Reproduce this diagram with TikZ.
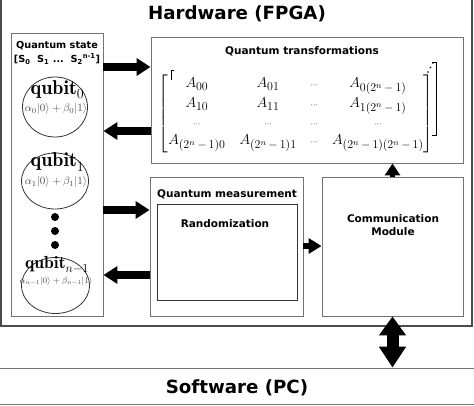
\RequirePackage{fix-cm}
\documentclass[tikz,border=0pt]{standalone}
\usepackage{amsmath,amssymb}
\usepackage{fontspec}
\usepackage{tikz}
\usetikzlibrary{arrows.meta,shapes.geometric}
\newfontfamily\labelfont{DejaVu Sans}
\DeclareMathSizes{14.4}{14.4}{12}{8.5}
\def\mdots{{\scriptscriptstyle\cdots}}
\def\tn{(2^n\mskip3mu-\mskip3mu1)}
\tikzset{
	box/.style={draw=black!55,line width=0.9pt,inner sep=0pt},
	lbl/.style={font=\labelfont\bfseries\fontsize{10.5}{13.3}\selectfont,anchor=base,inner sep=0pt},
	small lbl/.style={lbl,font=\labelfont\bfseries\fontsize{9.7}{12}\selectfont},
	big/.style={font=\labelfont\bfseries\fontsize{18.2}{20}\selectfont,anchor=base,inner sep=0pt},
	qubit/.style={draw=black!80,ellipse,line width=0.8pt,inner sep=0pt},
	qname/.style={anchor=base,inner sep=0pt,font=\fontsize{20}{20}\selectfont},
	qamp/.style={anchor=base,inner sep=0pt,text=black!70,font=\fontsize{11}{11}\selectfont},
	fat/.style={line width=8pt,-{Triangle[length=14pt,width=17pt]}},
	dot/.style={circle,fill=black,inner sep=0pt,minimum size=8pt},
}

\begin{document}
\begin{tikzpicture}[x=1pt,y=-1pt]
	\useasboundingbox (0,0) rectangle (474,406);
	
	%the two layers
	\node[box,draw=black!70,line width=1.5pt,minimum width=471pt,minimum height=340pt] (hw) at (236.5,156) {};
	\node[big] (hwtitle) at (237,20) {Hardware (FPGA)};
	\node[box,minimum width=480pt,minimum height=36pt] (sw) at (237,386) {};
	\node[big] (swtitle) at (237,393) {Software (PC)};
	
	%quantum state with its qubits
	\node[box,minimum width=92pt,minimum height=283pt] (state) at (57,174.5) {};
	\node[small lbl] (statetitle) at (57,49) {Quantum state};
	\node[small lbl] (statevec) at (57,63) {[S\textsubscript{0}\ \ S\textsubscript{1} ...\ \ S\textsubscript{2}\textsuperscript{n-1}]};
	\node[qubit,minimum width=65pt,minimum height=60pt] (q0) at (55,107) {};
	\node[qname] (q0name) at (57.5,94.3) {$\mathbf{qubit}_0$};
	\node[qamp] (q0amp) at (56,111.7) {$\alpha_0|0\rangle+\beta_0|1\rangle$};
	\node[qubit,minimum width=67pt,minimum height=56pt] (q1) at (55,181) {};
	\node[qname] (q1name) at (57.5,166.5) {$\mathbf{qubit}_1$};
	\node[qamp] (q1amp) at (56,184.5) {$\alpha_1|0\rangle+\beta_1|1\rangle$};
	\node[dot] (d1) at (55,217) {};
	\node[dot] (d2) at (55,231) {};
	\node[dot] (d3) at (55,245) {};
	\node[qubit,minimum width=68pt,minimum height=56pt] (qn) at (55.5,285.5) {};
	\node[qname,font=\fontsize{17.5}{18}\selectfont] (qnname) at (57,268.3) {$\mathbf{qubit}_{n-1}$};
	\node[qamp,font=\fontsize{8.6}{9}\selectfont] (qnamp) at (56,283.3) {$\alpha_{n-1}|0\rangle+\beta_{n-1}|1\rangle$};
	
	%quantum transformations
	\node[box,minimum width=312pt,minimum height=126pt] (trans) at (307,100) {};
	\node[lbl] (transtitle) at (302,55) {Quantum transformations};
	\draw[line width=0.6pt] (174,70) -- (171,70) -- (171,80);
	\draw[line width=0.6pt] (432,62) -- (436.5,62) -- (436.5,135) -- (432,135);
	\foreach \i in {0,1,2}
		\fill (428+2.5*\i,72-4.5*\i) circle (0.9pt);
	\node[inner sep=0pt] (mat) at (296,113.5) {\Large\def\arraystretch{1}$\left[\begin{array}{@{}c@{\hspace{14pt}}c@{\hspace{14pt}}c@{\hspace{14pt}}c@{}}
		A_{00} & A_{01} & \mdots & A_{0\tn}\\
		A_{10} & A_{11} & \mdots & A_{1\tn}\\
		\mdots & \mdots & \mdots & \mdots\\
		A_{\tn0} & A_{\tn1} & \mdots & A_{\tn\tn}
		\end{array}\right]$};
	
	%measurement and communication
	\node[box,minimum width=153pt,minimum height=139pt] (meas) at (226.5,246.5) {};
	\node[lbl] (meastitle) at (227,197.3) {Quantum measurement};
	\node[box,draw=black!80,minimum width=140pt,minimum height=96pt] (rand) at (227,252) {};
	\node[lbl] (randtitle) at (225,227.3) {Randomization};
	\node[box,minimum width=141pt,minimum height=139pt] (comm) at (392.5,246.5) {};
	\node[lbl,align=center] (commtitle) at (393,236) {Communication\\Module};
	
	%data paths
	\draw[fat] (state.east |- 0,67) -- (trans.west |- 0,67);
	\draw[fat] (trans.west |- 0,131) -- (state.east |- 0,131);
	\draw[fat] (state.east |- 0,210) -- (meas.west |- 0,210);
	\draw[fat] (meas.west |- 0,275) -- (state.east |- 0,275);
	\draw[line width=6pt,-{Triangle[length=13pt,width=15pt]}] (meas.east |- 0,246) -- (comm.west |- 0,246);
	\draw[line width=5pt,-{Triangle[length=12pt,width=15pt]}] (comm.north) -- (trans.south -| comm.north);
	\draw[line width=12pt,{Triangle[length=19pt,width=26pt]}-{Triangle[length=21pt,width=26pt]}] (comm.south) -- (sw.north -| comm.south);
\end{tikzpicture}
\end{document}
